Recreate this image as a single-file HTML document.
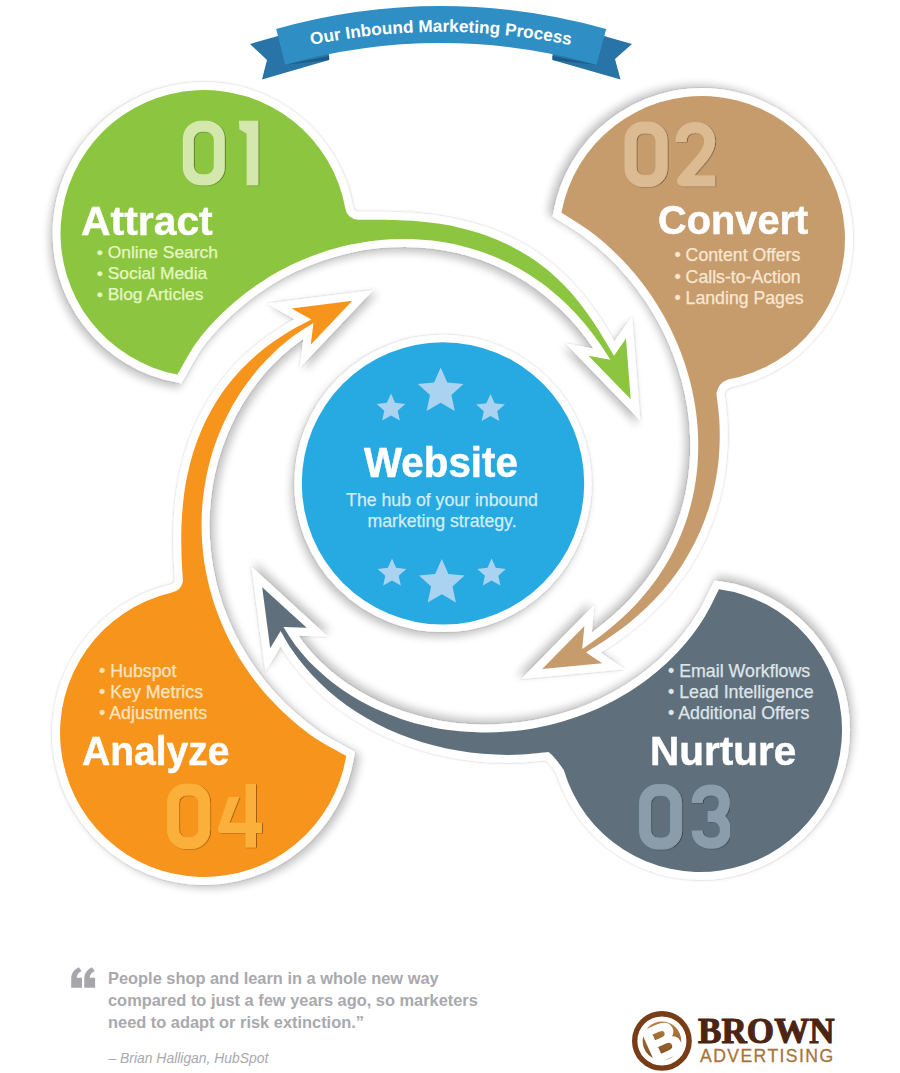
<!DOCTYPE html>
<html><head><meta charset="utf-8"><title>Our Inbound Marketing Process</title>
<style>
html,body{margin:0;padding:0;background:#fff;}
body{width:900px;height:1073px;position:relative;overflow:hidden;font-family:"Liberation Sans",sans-serif;}
svg{position:absolute;left:0;top:0;}
.blob{stroke:#fff;stroke-width:16;paint-order:stroke fill;stroke-linejoin:miter;stroke-miterlimit:12;}
.dg{filter:url(#ds);}
.t{position:absolute;white-space:nowrap;line-height:1;}
.h{font-weight:bold;color:#fff;font-size:40px;transform-origin:0 50%;-webkit-text-stroke:0.5px #fff;}
.b{font-size:18px;line-height:21.1px;-webkit-text-stroke:0.25px currentColor;}
</style></head><body>
<svg width="900" height="1073" viewBox="0 0 900 1073">
<defs>
<filter id="sh0" x="-10%" y="-10%" width="120%" height="120%"><feGaussianBlur in="SourceAlpha" stdDeviation="4.2"/><feOffset dx="-3" dy="5"/><feComponentTransfer result="a"><feFuncA type="linear" slope="0.24"/></feComponentTransfer><feGaussianBlur in="SourceAlpha" stdDeviation="0.9"/><feComponentTransfer result="b"><feFuncA type="linear" slope="0.22"/></feComponentTransfer><feMerge><feMergeNode in="a"/><feMergeNode in="b"/><feMergeNode in="SourceGraphic"/></feMerge></filter>
<filter id="sh1" x="-10%" y="-10%" width="120%" height="120%"><feGaussianBlur in="SourceAlpha" stdDeviation="4.2"/><feOffset dx="-5" dy="-3"/><feComponentTransfer result="a"><feFuncA type="linear" slope="0.24"/></feComponentTransfer><feGaussianBlur in="SourceAlpha" stdDeviation="0.9"/><feComponentTransfer result="b"><feFuncA type="linear" slope="0.22"/></feComponentTransfer><feMerge><feMergeNode in="a"/><feMergeNode in="b"/><feMergeNode in="SourceGraphic"/></feMerge></filter>
<filter id="sh2" x="-10%" y="-10%" width="120%" height="120%"><feGaussianBlur in="SourceAlpha" stdDeviation="4.2"/><feOffset dx="3" dy="-5"/><feComponentTransfer result="a"><feFuncA type="linear" slope="0.24"/></feComponentTransfer><feGaussianBlur in="SourceAlpha" stdDeviation="0.9"/><feComponentTransfer result="b"><feFuncA type="linear" slope="0.22"/></feComponentTransfer><feMerge><feMergeNode in="a"/><feMergeNode in="b"/><feMergeNode in="SourceGraphic"/></feMerge></filter>
<filter id="sh3" x="-10%" y="-10%" width="120%" height="120%"><feGaussianBlur in="SourceAlpha" stdDeviation="4.2"/><feOffset dx="5" dy="3"/><feComponentTransfer result="a"><feFuncA type="linear" slope="0.24"/></feComponentTransfer><feGaussianBlur in="SourceAlpha" stdDeviation="0.9"/><feComponentTransfer result="b"><feFuncA type="linear" slope="0.22"/></feComponentTransfer><feMerge><feMergeNode in="a"/><feMergeNode in="b"/><feMergeNode in="SourceGraphic"/></feMerge></filter>
<filter id="ds" x="-5%" y="-5%" width="110%" height="110%"><feDropShadow dx="0.9" dy="0.4" stdDeviation="0.35" flood-color="#000" flood-opacity="0.4"/></filter>
<path id="rib" d="M250,61 A640,640 0 0 1 632,61"/>
<linearGradient id="lg" x1="0" y1="0" x2="0" y2="1"><stop offset="0" stop-color="#b9833f"/><stop offset="1" stop-color="#7a4a22"/></linearGradient>
</defs>
<path class="blob" filter="url(#sh2)" fill="#5e6f7c" d="M719.0,589.3 A142.0,142.0 0 1 1 563.8,770.0 Q554.5,756.5 548.5,752.1 C544.1,752.5 530.7,754.1 521.9,754.5 C513.1,755.0 504.3,755.0 495.7,754.6 C487.1,754.3 478.5,753.6 470.1,752.5 C461.7,751.4 453.4,750.0 445.3,748.3 C437.1,746.5 429.1,744.4 421.3,742.0 C413.5,739.6 405.9,736.8 398.5,733.8 C391.0,730.7 383.8,727.3 376.8,723.7 C369.8,720.1 363.0,716.1 356.5,711.9 C349.9,707.7 343.6,703.2 337.6,698.5 C331.6,693.7 325.9,688.7 320.5,683.5 C315.0,678.3 309.9,672.8 305.1,667.1 C300.3,661.5 295.9,655.6 291.8,649.6 C287.7,643.5 282.5,634.0 280.6,630.9 L270.2,648.3 L262.2,587.2 L306.7,627.8 L283.4,626.9 C285.7,630.4 292.1,640.9 297.2,647.4 C302.2,653.9 307.8,660.2 313.7,666.1 C319.7,672.0 326.1,677.6 332.8,682.8 C339.4,688.0 346.5,692.8 353.9,697.2 C361.2,701.6 368.9,705.7 376.7,709.3 C384.6,712.9 392.8,716.1 401.1,718.9 C409.4,721.7 417.9,724.1 426.6,726.0 C435.2,728.0 444.1,729.5 453.0,730.6 C462.0,731.6 471.0,732.3 480.2,732.4 C489.3,732.6 498.5,732.3 507.8,731.6 C517.0,730.8 526.4,729.6 535.6,727.9 C544.9,726.2 554.2,724.0 563.4,721.3 C572.6,718.6 581.8,715.4 590.8,711.6 C599.8,707.9 608.7,703.6 617.4,698.8 C626.0,694.0 634.5,688.7 642.7,682.8 C650.8,676.9 658.8,670.5 666.2,663.6 C673.6,656.7 680.8,649.2 687.3,641.3 C693.8,633.3 699.9,624.7 705.2,616.0 C710.4,607.4 716.7,593.7 719.0,589.3 Z"/>
<path class="blob" filter="url(#sh1)" fill="#c69c6d" d="M561.4,212.7 A143.0,143.0 0 1 1 728.0,379.6 Q718.5,383.0 716.4,393.2 C716.9,397.6 718.7,410.9 719.3,419.7 C719.8,428.4 719.9,437.2 719.5,445.9 C719.2,454.5 718.4,463.1 717.2,471.5 C715.9,479.9 714.2,488.3 712.2,496.4 C710.1,504.5 707.6,512.4 704.7,520.1 C701.8,527.8 698.5,535.3 694.9,542.6 C691.3,549.8 687.3,556.7 683.1,563.4 C678.8,570.1 674.2,576.5 669.4,582.5 C664.6,588.6 659.5,594.4 654.3,599.8 C649.1,605.3 643.6,610.5 638.1,615.3 C632.6,620.2 626.9,624.8 621.2,629.1 C615.4,633.4 609.6,637.5 603.7,641.3 C597.9,645.2 589.1,650.5 586.1,652.4 L602.2,663.3 L542.2,668.9 L584.4,626.1 L582.2,649.0 C585.4,646.7 595.0,640.2 601.2,635.4 C607.5,630.6 613.7,625.6 619.6,620.2 C625.6,614.8 631.4,609.2 637.0,603.2 C642.5,597.2 647.9,590.8 652.9,584.1 C657.9,577.4 662.6,570.4 666.9,563.0 C671.2,555.7 675.2,548.0 678.7,540.0 C682.2,532.1 685.3,523.8 687.9,515.4 C690.5,506.9 692.6,498.2 694.3,489.4 C695.9,480.6 697.1,471.5 697.7,462.4 C698.3,453.3 698.4,444.0 698.0,434.7 C697.6,425.4 696.7,416.0 695.2,406.6 C693.8,397.3 691.8,387.9 689.3,378.6 C686.8,369.3 683.8,360.0 680.2,350.8 C676.7,341.7 672.6,332.6 668.0,323.7 C663.4,314.9 658.2,306.1 652.6,297.6 C646.9,289.2 640.8,280.9 634.1,273.0 C627.4,265.0 620.2,257.3 612.5,250.2 C604.9,243.0 596.5,236.0 588.0,229.8 C579.5,223.5 565.9,215.5 561.4,212.7 Z"/>
<path class="blob" filter="url(#sh3)" fill="#f7941e" d="M346.2,756.0 A144.0,144.0 0 1 1 171.0,592.8 Q181.5,590.5 183.0,580.9 C182.7,576.4 181.7,562.8 181.5,553.9 C181.2,545.0 181.2,536.3 181.4,527.6 C181.7,519.0 182.3,510.4 183.2,502.0 C184.1,493.6 185.3,485.2 187.0,477.1 C188.6,468.9 190.6,460.8 193.0,453.0 C195.5,445.1 198.3,437.4 201.5,430.0 C204.7,422.6 208.3,415.3 212.3,408.4 C216.2,401.5 220.6,394.8 225.2,388.5 C229.9,382.2 234.9,376.2 240.2,370.6 C245.4,365.0 251.0,359.7 256.7,354.7 C262.4,349.8 268.4,345.3 274.4,341.0 C280.4,336.8 286.6,332.9 292.7,329.3 C298.9,325.7 308.3,321.1 311.4,319.4 L291.6,308.4 L352.3,300.7 L310.7,344.7 L313.5,322.9 C310.2,325.1 300.1,331.1 293.8,335.8 C287.4,340.5 281.2,345.7 275.3,351.2 C269.4,356.7 263.7,362.6 258.3,368.8 C253.0,375.1 247.9,381.7 243.2,388.6 C238.4,395.5 234.0,402.8 230.0,410.3 C226.0,417.8 222.3,425.7 219.1,433.8 C215.8,441.8 213.0,450.2 210.6,458.7 C208.2,467.2 206.3,476.0 204.8,484.9 C203.4,493.8 202.4,502.9 201.9,512.0 C201.4,521.2 201.4,530.5 202.0,539.8 C202.6,549.1 203.6,558.5 205.2,567.8 C206.9,577.2 209.0,586.6 211.7,595.8 C214.4,605.0 217.7,614.2 221.5,623.2 C225.3,632.2 229.6,641.2 234.5,649.8 C239.3,658.4 244.7,666.9 250.6,675.0 C256.5,683.2 263.0,691.1 269.8,698.6 C276.7,706.1 284.1,713.3 291.8,720.1 C299.6,726.8 307.4,733.1 316.4,739.1 C325.5,745.1 341.2,753.1 346.2,756.0 Z"/>
<path class="blob" filter="url(#sh0)" fill="#8cc63f" d="M177.4,374.5 A143.5,143.5 0 1 1 345.4,208.8 Q347.0,218.5 358.1,219.8 C362.7,219.8 376.7,219.5 385.7,219.7 C394.8,219.9 403.6,220.2 412.3,220.8 C420.9,221.5 429.5,222.3 437.9,223.6 C446.3,224.8 454.6,226.4 462.6,228.4 C470.7,230.3 478.6,232.7 486.3,235.4 C494.0,238.2 501.5,241.4 508.7,244.9 C515.9,248.5 522.8,252.4 529.5,256.7 C536.1,261.0 542.4,265.7 548.3,270.6 C554.2,275.6 559.8,280.9 565.1,286.3 C570.3,291.7 575.2,297.4 579.8,303.2 C584.3,308.9 588.5,314.8 592.5,320.7 C596.5,326.6 600.1,332.5 603.7,338.4 C607.3,344.2 612.3,352.8 614.0,355.7 L626.0,338.6 L630.7,399.3 L588.5,355.7 L610.4,359.8 C608.3,356.7 602.4,347.3 598.0,341.1 C593.7,335.0 589.0,328.9 584.1,323.0 C579.1,317.1 573.8,311.3 568.2,305.7 C562.5,300.2 556.5,294.8 550.2,289.7 C543.9,284.6 537.2,279.7 530.2,275.3 C523.2,270.8 515.8,266.6 508.2,262.8 C500.5,259.1 492.6,255.7 484.4,252.7 C476.2,249.8 467.7,247.3 459.0,245.2 C450.3,243.2 441.4,241.6 432.4,240.5 C423.3,239.5 414.1,238.9 404.8,238.9 C395.5,238.9 386.0,239.3 376.6,240.4 C367.1,241.4 357.6,243.0 348.1,245.1 C338.7,247.3 329.2,249.9 319.8,253.2 C310.5,256.5 301.1,260.3 292.0,264.6 C282.9,269.0 273.9,274.0 265.2,279.5 C256.5,285.0 248.0,291.0 239.8,297.7 C231.7,304.3 223.8,311.4 216.4,319.1 C209.1,326.8 202.1,334.5 195.6,343.7 C189.1,353.0 180.5,369.4 177.4,374.5 Z"/>

<circle class="blob" filter="url(#sh0)" cx="443" cy="483.4" r="141.2" fill="#27aae1" style="stroke-width:15"/>
<g fill="#aad3f2"><polygon points="440.7,367.5 447.3,382.4 463.5,384.1 451.4,395.0 454.8,410.9 440.7,402.8 426.6,410.9 430.0,395.0 417.9,384.1 434.1,382.4"/><polygon points="391.0,393.5 395.1,402.8 405.3,403.9 397.7,410.7 399.8,420.6 391.0,415.6 382.2,420.6 384.3,410.7 376.7,403.9 386.9,402.8"/><polygon points="490.5,394.0 494.6,403.3 504.8,404.4 497.2,411.2 499.3,421.1 490.5,416.1 481.7,421.1 483.8,411.2 476.2,404.4 486.4,403.3"/><polygon points="441.8,559.0 448.4,573.9 464.6,575.6 452.5,586.5 455.9,602.4 441.8,594.3 427.7,602.4 431.1,586.5 419.0,575.6 435.2,573.9"/><polygon points="392.0,558.5 396.1,567.8 406.3,568.9 398.7,575.7 400.8,585.6 392.0,580.5 383.2,585.6 385.3,575.7 377.7,568.9 387.9,567.8"/><polygon points="491.6,558.5 495.7,567.8 505.9,568.9 498.3,575.7 500.4,585.6 491.6,580.5 482.8,585.6 484.9,575.7 477.3,568.9 487.5,567.8"/></g>
<g fill="#d4e8ae" class="dg"><path fill-rule="evenodd" d="M200.8,120.8 h6.0 a18.0,18.0 0 0 1 18.0,18.0 v28.5 a18.0,18.0 0 0 1 -18.0,18.0 h-6.0 a18.0,18.0 0 0 1 -18.0,-18.0 v-28.5 a18.0,18.0 0 0 1 18.0,-18.0 Z M201.8,131.8 h4.0 a8.0,8.0 0 0 1 8.0,8.0 v26.5 a8.0,8.0 0 0 1 -8.0,8.0 h-4.0 a8.0,8.0 0 0 1 -8.0,-8.0 v-26.5 a8.0,8.0 0 0 1 8.0,-8.0 Z"/><path d="M238.9,120.8 h19.4 v64.5 h-11.6 v-51.5 l-7.3,-4.5 Z"/></g>
<g fill="#dcbb93" stroke="#dcbb93" class="dg"><path fill-rule="evenodd" d="M643.0,122.0 h6.0 a18.0,18.0 0 0 1 18.0,18.0 v28.5 a18.0,18.0 0 0 1 -18.0,18.0 h-6.0 a18.0,18.0 0 0 1 -18.0,-18.0 v-28.5 a18.0,18.0 0 0 1 18.0,-18.0 Z M644.0,133.0 h4.0 a8.0,8.0 0 0 1 8.0,8.0 v26.5 a8.0,8.0 0 0 1 -8.0,8.0 h-4.0 a8.0,8.0 0 0 1 -8.0,-8.0 v-26.5 a8.0,8.0 0 0 1 8.0,-8.0 Z"/><path fill="none" stroke-width="11" stroke-linejoin="round" d="M681.0,142.0 C681.0,133.0 686.5,127.5 695.4,127.5 C704.2,127.5 709.7,133.0 709.7,141.5 C709.7,148.0 706.2,153.0 702.2,158.0 L682.5,180.7 L715.2,180.7"/></g>
<g fill="#8b9daa" stroke="#8b9daa" class="dg"><path fill-rule="evenodd" d="M657.6,784.6 h6.0 a18.0,18.0 0 0 1 18.0,18.0 v28.5 a18.0,18.0 0 0 1 -18.0,18.0 h-6.0 a18.0,18.0 0 0 1 -18.0,-18.0 v-28.5 a18.0,18.0 0 0 1 18.0,-18.0 Z M658.6,795.6 h4.0 a8.0,8.0 0 0 1 8.0,8.0 v26.5 a8.0,8.0 0 0 1 -8.0,8.0 h-4.0 a8.0,8.0 0 0 1 -8.0,-8.0 v-26.5 a8.0,8.0 0 0 1 8.0,-8.0 Z"/><path fill="none" stroke-width="11" stroke-linejoin="round" d="M697.2,803.1 C697.2,794.6 702.7,790.1 711.3,790.1 C719.9,790.1 724.4,794.6 724.4,802.6 C724.4,810.6 718.9,816.4 713.3,816.4 L707.7,816.4 M713.3,816.4 C719.9,816.4 725.4,822.6 725.4,830.1 C725.4,838.6 719.9,843.3 711.3,843.3 C702.7,843.3 697.2,838.6 697.2,830.6"/></g>
<g fill="#fbb03b" stroke="#fbb03b" class="dg"><path fill-rule="evenodd" d="M185.6,784.0 h6.0 a18.0,18.0 0 0 1 18.0,18.0 v28.5 a18.0,18.0 0 0 1 -18.0,18.0 h-6.0 a18.0,18.0 0 0 1 -18.0,-18.0 v-28.5 a18.0,18.0 0 0 1 18.0,-18.0 Z M186.6,795.0 h4.0 a8.0,8.0 0 0 1 8.0,8.0 v26.5 a8.0,8.0 0 0 1 -8.0,8.0 h-4.0 a8.0,8.0 0 0 1 -8.0,-8.0 v-26.5 a8.0,8.0 0 0 1 8.0,-8.0 Z"/><path stroke="none" d="M228.5,797.0 h11 L229.4,822.7 H262.0 v10.3 H222.2 q-6,0 -3.6,-6.6 Z M245.6,784.0 h10.4 v63.5 h-10.4 Z"/></g>

<g>
<path fill="#2874a6" d="M278,36 L250,44 L267,60 L262,79.5 L329,60 L329,50 Z"/>
<path fill="#2874a6" d="M604,36 L632,44 L615,59 L620.5,79.5 L552.5,60 L552.5,50 Z"/>
<path fill="#1d5c86" d="M285.2,64.8 L329.2,56 L329.2,60 Z"/>
<path fill="#1d5c86" d="M596.5,64.8 L552.5,56 L552.5,60 Z"/>
<path fill="#2f8fc5" d="M276.2,29 A603,603 0 0 1 606.2,29 L596.5,64.8 A567,567 0 0 0 285.2,64.8 Z"/>
<text font-family="Liberation Sans, sans-serif" font-weight="bold" font-size="17.2" fill="#fff" text-anchor="middle"><textPath href="#rib" startOffset="50%" textLength="261" lengthAdjust="spacing">Our Inbound Marketing Process</textPath></text>
</g>

<g>
<circle cx="661.9" cy="1040.9" r="19.3" fill="url(#lg)"/>
<text transform="translate(662.3,1040.9) rotate(-24)" x="0" y="17.6" text-anchor="middle" font-family="Liberation Sans, sans-serif" font-weight="bold" font-size="49" fill="#fff" stroke="#fff" stroke-width="2.2">B</text>
<circle cx="661.9" cy="1040.9" r="23" fill="none" stroke="#fff" stroke-width="4.2"/>
<circle cx="661.9" cy="1040.9" r="27.2" fill="none" stroke="#783c17" stroke-width="5.4"/>
</g>
<path fill="#a6a6ab" d="M71.2,987.8 h10.8 v-10 h-5.3 c0,-3.3 2,-5.3 5,-6.8 l-3,-3.8 c-4.5,2.3 -7.5,5.8 -7.5,11.3 Z M84.3,987.8 h10.8 v-10 h-5.3 c0,-3.3 2,-5.3 5,-6.8 l-3,-3.8 c-4.5,2.3 -7.5,5.8 -7.5,11.3 Z"/>
</svg>
<div class="t h" style="left:81px;top:199.57px;font-size:41.5px;transform:scaleX(0.985);">Attract</div>
<div class="t h" style="left:657.6px;top:199.37px;font-size:41.5px;transform:scaleX(0.958);">Convert</div>
<div class="t h" style="left:649.6px;top:729.87px;font-size:41.5px;transform:scaleX(0.976);">Nurture</div>
<div class="t h" style="left:82.4px;top:729.87px;font-size:41.5px;transform:scaleX(0.94);">Analyze</div>
<div class="t h" style="left:363.6px;top:441.75px;font-size:42px;transform:scaleX(0.96);">Website</div>
<div class="t b" style="left:96.8px;top:242.10px;font-size:17.4px;line-height:20.75px;color:#e6f7c3;">&bull; Online Search<br>&bull; Social Media<br>&bull; Blog Articles</div>
<div class="t b" style="left:674.5px;top:245.37px;font-size:17.7px;line-height:21.2px;color:#f9e7d1;">&bull; Content Offers<br>&bull; Calls-to-Action<br>&bull; Landing Pages</div>
<div class="t b" style="left:668px;top:661.11px;font-size:17.8px;line-height:21.05px;color:#dfe5ea;">&bull; Email Workflows<br>&bull; Lead Intelligence<br>&bull; Additional Offers</div>
<div class="t b" style="left:99px;top:661.48px;font-size:17.8px;line-height:20.9px;color:#fee4c0;">&bull; Hubspot<br>&bull; Key Metrics<br>&bull; Adjustments</div>
<div class="t b" style="left:292px;top:489.82px;width:300px;text-align:center;font-size:17.7px;line-height:21.3px;color:#d4edfb;">The hub of your inbound<br>marketing strategy.</div>
<div class="t" style="left:108px;top:968.24px;font-size:16.4px;line-height:21.75px;color:#a9a9ae;font-weight:bold;">People shop and learn in a whole new way<br>compared to just a few years ago, so marketers<br>need to adapt or risk extinction.&rdquo;</div>
<div class="t" style="left:108.5px;top:1051.53px;font-size:13.9px;color:#a9a9ae;font-style:italic;">&ndash; Brian Halligan, HubSpot</div>
<div class="t" style="left:698px;top:1013.5px;font-size:35px;font-weight:bold;color:#4b2412;font-family:'Liberation Serif',serif;letter-spacing:0.1px;-webkit-text-stroke:1.1px #4b2412;">BROWN</div>
<div class="t" style="left:700px;top:1047.7px;font-size:17.6px;color:#a8743a;letter-spacing:1.42px;-webkit-text-stroke:0.3px #a8743a;">ADVERTISING</div>

</body></html>
